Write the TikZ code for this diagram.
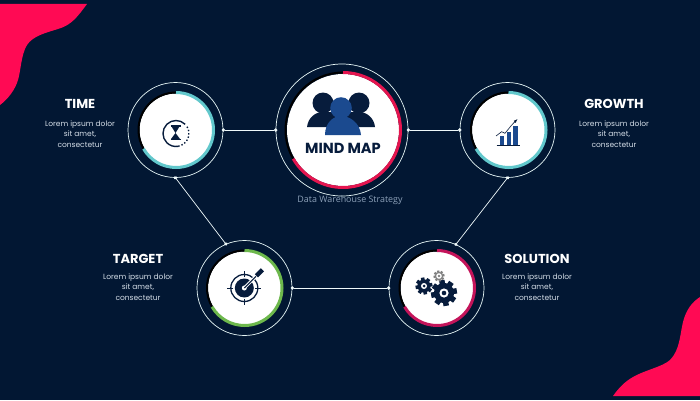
\documentclass[tikz,border=0pt]{standalone}
\usepackage{fontspec}
\setmainfont{Poppins}
\newfontfamily\captionfont{Open Sans}
\usetikzlibrary{arrows.meta}
\definecolor{BgNavy}{HTML}{021733}
\definecolor{BlobRed}{HTML}{FF0A54}
\definecolor{IconBlue}{HTML}{1B4A8F}
\definecolor{IconDark}{HTML}{071C3C}
\definecolor{ArcTeal}{HTML}{62C8CC}
\definecolor{ArcGreen}{HTML}{6DB84C}
\definecolor{ArcRed}{HTML}{E5154F}
\definecolor{ArcPlum}{HTML}{C4145A}
\definecolor{BodyGrey}{HTML}{D5DEE8}
\definecolor{CaptionGrey}{HTML}{8CA0B8}
\tikzstyle{RingNode}=[circle, draw=white!85!ArcTeal, line width=0.7pt, inner sep=0pt]
\tikzstyle{DiscNode}=[circle, fill=white, inner sep=0pt]
\tikzstyle{TitleNode}=[text=white, font=\fontsize{13}{15}\selectfont\bfseries]
\tikzstyle{BodyNode}=[text=BodyGrey, align=center, font=\fontsize{7.5}{10.4}\selectfont]
\tikzstyle{LinkEdge}=[{Circle[length=3.4pt]}-{Circle[length=3.4pt]}, white!90!ArcTeal, line width=0.7pt, shorten <=-1.7pt, shorten >=-1.7pt]
\newcommand{\RingArc}[3]{%
\draw[black, line width=2pt] (#1) ++(90:#2) arc[start angle=90, delta angle=120, radius=#2];
\draw[#3, line width=3pt] (#1) ++(90:#2) arc[start angle=90, delta angle=-240, radius=#2];}
\newcommand{\GearIcon}[4]{%
\foreach \a in {0,45,...,315}
\draw[#4, line width=#2*0.42pt] (#1) ++(\a+10:#2*0.7) -- ++(\a+10:#2*0.3);
\fill[#4] (#1) circle[radius=#2*0.78];
\fill[white] (#1) circle[radius=#3];
\fill[#4] (#1) circle[radius=#3*0.5];}

\begin{document}
\begin{tikzpicture}[x=1pt, y=1pt]
\useasboundingbox (0,0) rectangle (700,400);
\fill[BgNavy] (0,0) rectangle (700,400);

\fill[BlobRed] (0,396) -- (87,396) .. controls (78,384) and (72,375) .. (58,371)
  .. controls (45,367) and (33,364) .. (27,355)
  .. controls (21,345) and (21,330) .. (18,320)
  .. controls (15,310) and (8,301) .. (0,295) -- cycle;
\fill[BlobRed] (700,4) -- (700,103) .. controls (692,98) and (686,90) .. (683,78)
  .. controls (680,66) and (680,50) .. (670,40)
  .. controls (662,33) and (645,30) .. (633,23)
  .. controls (624,18) and (618,11) .. (613,4) -- cycle;

\node[RingNode, minimum size=132pt](MindRing) at (342,270) {};
\node[RingNode, minimum size=95pt](TimeRing) at (175.5,270) {};
\node[RingNode, minimum size=95pt](GrowthRing) at (507.5,270) {};
\node[RingNode, minimum size=95pt](TargetRing) at (244.5,112) {};
\node[RingNode, minimum size=95pt](SolutionRing) at (436.5,112) {};

\draw[LinkEdge](TimeRing.0) -- (MindRing.180);
\draw[LinkEdge](MindRing.0) -- (GrowthRing.180);
\draw[LinkEdge](TimeRing.-90) -- (TargetRing.113);
\draw[LinkEdge](GrowthRing.-90) -- (SolutionRing.66);
\draw[LinkEdge](TargetRing.0) -- (SolutionRing.180);

\node[DiscNode, minimum size=112pt](MindDisc) at (343,270) {};
\node[DiscNode, minimum size=73pt](TimeDisc) at (176,270) {};
\node[DiscNode, minimum size=73pt](GrowthDisc) at (508.5,270) {};
\node[DiscNode, minimum size=73pt](TargetDisc) at (244.5,112) {};
\node[DiscNode, minimum size=73pt](SolutionDisc) at (437,112) {};

\RingArc{MindDisc.center}{57.5}{ArcRed}
\RingArc{TimeDisc.center}{37.5}{ArcTeal}
\RingArc{GrowthDisc.center}{37.5}{ArcTeal}
\RingArc{TargetDisc.center}{37.5}{ArcGreen}
\RingArc{SolutionDisc.center}{37.5}{ArcPlum}

% people
\fill[IconDark] (323,297) circle[radius=10.5];
\fill[IconDark] (359,297) circle[radius=10.5];
\fill[IconDark] (307,273) .. controls (308,282) and (315,288) .. (323,288) -- (359,288) .. controls (367,288) and (374,282) .. (375,273) -- cycle;
\fill[IconBlue] (341,292) circle[radius=10.8];
\fill[IconBlue] (325,265) .. controls (325,277) and (333,284) .. (341,284) .. controls (350,284) and (360,277) .. (361,265) -- cycle;

% hourglass
\draw[IconDark, line width=1.4pt] (176,266.5) ++(45:13) arc[start angle=45, delta angle=235, radius=13];
\draw[IconDark, line width=1.4pt, dotted] (176,266.5) ++(280:13) arc[start angle=280, delta angle=120, radius=13];
\draw[IconDark, line width=1.3pt] (170.5,274) -- (180.5,274) (170.5,260.5) -- (180.5,260.5);
\fill[IconDark] (171.5,273.5) -- (179.5,273.5) -- (175.5,267) -- cycle;
\fill[IconDark] (171,261) -- (180,261) -- (175.5,267) -- cycle;

% chart
\fill[IconBlue] (500,254.7) rectangle (504.3,264);
\fill[IconBlue] (506.7,254.7) rectangle (511.3,268.3);
\fill[IconBlue] (513.3,254.7) rectangle (518,274);
\draw[IconDark, line width=0.7pt] (496.7,254.5) -- (520,254.5);
\draw[-{Latex[length=4pt]}, IconDark, line width=0.6pt] (496,264) -- (501.7,268.3) -- (505,266.7) -- (511.7,275) -- (517.5,281);

% target
\fill[IconDark] (244.3,112) circle[radius=9.5];
\fill[white] (244.3,112) circle[radius=2.5];
\draw[IconDark, line width=1.3pt] (244.3,112) circle[radius=13.5];
\foreach \a in {0,90,180,270}
\draw[IconDark, line width=1pt] (244.3,112) ++(\a:11) -- ++(\a:6);
\draw[white, line width=3pt] (244.3,112) -- (256,123.7);
\draw[IconDark, line width=1pt] (244.3,112) -- (256,123.7);
\draw[IconDark, line width=4.5pt] (256.5,124.2) -- (262.5,130.2);

% gears
\GearIcon{444,107}{13}{4.6}{IconDark}
\GearIcon{424,114}{8.5}{3}{IconDark}
\GearIcon{439,124}{5.5}{2.8}{gray}

\node[text=IconDark, font=\fontsize{14.6}{16}\selectfont\bfseries](MindTitle) at (343,252) {MIND MAP};
\node[text=CaptionGrey, font=\fontsize{8.9}{10}\selectfont\captionfont](MindCaption) at (350,200) {Data Warehouse Strategy};

\node[TitleNode](TimeTitle) at (80,296) {TIME};
\node[BodyNode](TimeBody) at (80,266) {Lorem ipsum dolor\\sit amet,\\consectetur};
\node[TitleNode](GrowthTitle) at (614,296) {GROWTH};
\node[BodyNode](GrowthBody) at (614,266) {Lorem ipsum dolor\\sit amet,\\consectetur};
\node[TitleNode](TargetTitle) at (138,141) {TARGET};
\node[BodyNode](TargetBody) at (138,113) {Lorem ipsum dolor\\sit amet,\\consectetur};
\node[TitleNode](SolutionTitle) at (537,141) {SOLUTION};
\node[BodyNode](SolutionBody) at (537,113) {Lorem ipsum dolor\\sit amet,\\consectetur};
\end{tikzpicture}
\end{document}
